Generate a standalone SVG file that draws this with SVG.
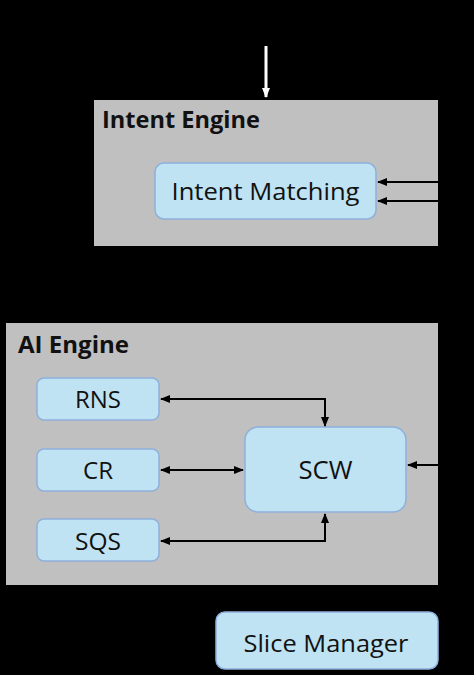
<svg xmlns="http://www.w3.org/2000/svg" width="474" height="675" viewBox="0 0 474 675">
<style>
.panel{fill:#c0c0c0;stroke:none}
.node{fill:#bfe3f3;stroke:#8eb0dc;stroke-width:1.5}
.t{font-family:"Open Sans","Liberation Sans",sans-serif;fill:#111;text-anchor:middle}
.h{font-family:"Open Sans","Liberation Sans",sans-serif;font-weight:bold;fill:#111}
.c{fill:none;stroke:#000;stroke-width:2}
</style>
<defs>
<marker id="ah" markerUnits="userSpaceOnUse" markerWidth="10" markerHeight="10" viewBox="0 0 10 10" refX="9" refY="5" orient="auto-start-reverse">
<path d="M0,1 L10,5 L0,9 Z" fill="#000"/>
</marker>
<marker id="wh" markerUnits="userSpaceOnUse" markerWidth="10" markerHeight="10" viewBox="0 0 10 10" refX="9" refY="5" orient="auto">
<path d="M0,1 L10,5 L0,9 Z" fill="#fff"/>
</marker>
</defs>
<rect width="474" height="675" fill="#000"/>
<g id="intent-engine">
<rect class="panel" x="94" y="100" width="344" height="146"/>
<text class="h" x="102" y="128" font-size="24" textLength="158" lengthAdjust="spacingAndGlyphs">Intent Engine</text>
</g>
<g id="intent-matching">
<rect class="node" x="155" y="163" width="221" height="56" rx="9"/>
<text class="t" x="265.5" y="200" font-size="24.5" textLength="188" lengthAdjust="spacingAndGlyphs">Intent Matching</text>
</g>
<g id="ai-engine">
<rect class="panel" x="6" y="323" width="432" height="262"/>
<text class="h" x="18" y="353" font-size="24" textLength="111" lengthAdjust="spacingAndGlyphs">AI Engine</text>
</g>
<g id="rns">
<rect class="node" x="37" y="378" width="122" height="42" rx="7"/>
<text class="t" x="98" y="408" font-size="24.5" textLength="46" lengthAdjust="spacingAndGlyphs">RNS</text>
</g>
<g id="cr">
<rect class="node" x="37" y="449" width="122" height="42" rx="7"/>
<text class="t" x="98" y="479" font-size="24.5" textLength="30" lengthAdjust="spacingAndGlyphs">CR</text>
</g>
<g id="sqs">
<rect class="node" x="37" y="519" width="122" height="42" rx="7"/>
<text class="t" x="98" y="550" font-size="24.5" textLength="46" lengthAdjust="spacingAndGlyphs">SQS</text>
</g>
<g id="scw">
<rect class="node" x="245" y="427" width="161" height="85" rx="13"/>
<text class="t" x="325.5" y="479" font-size="25" textLength="54" lengthAdjust="spacingAndGlyphs">SCW</text>
</g>
<g id="slice-manager">
<rect class="node" x="216" y="612" width="222" height="57" rx="9"/>
<text class="t" x="326" y="652" font-size="24.5" textLength="165" lengthAdjust="spacingAndGlyphs">Slice Manager</text>
</g>
<g id="connectors">
<line x1="266" y1="46" x2="266" y2="97" stroke="#fff" stroke-width="3" marker-end="url(#wh)"/>
<line class="c" x1="438" y1="182" x2="378" y2="182" marker-end="url(#ah)"/>
<line class="c" x1="438" y1="201" x2="378" y2="201" marker-end="url(#ah)"/>
<polyline class="c" points="161,399 325,399 325,426" marker-start="url(#ah)" marker-end="url(#ah)"/>
<line class="c" x1="161" y1="470" x2="243" y2="470" marker-start="url(#ah)" marker-end="url(#ah)"/>
<polyline class="c" points="161,541 325,541 325,514" marker-start="url(#ah)" marker-end="url(#ah)"/>
<line class="c" x1="438" y1="465" x2="408" y2="465" marker-end="url(#ah)"/>
</g>
</svg>
